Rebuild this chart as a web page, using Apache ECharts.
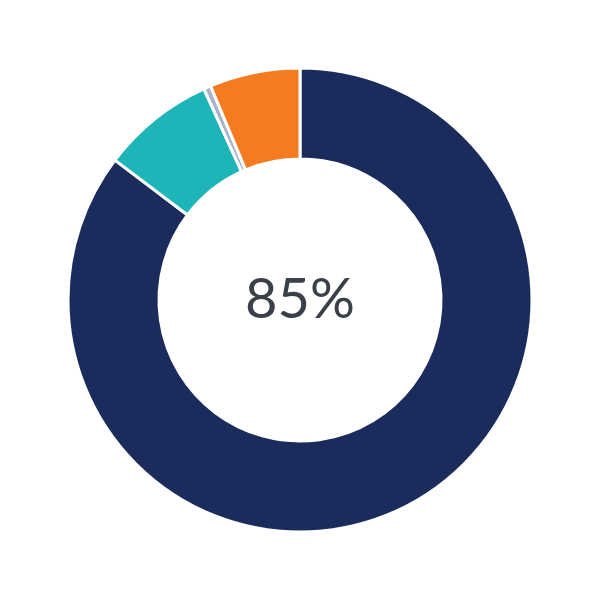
<!DOCTYPE html>
<html>
<head>
<meta charset="utf-8">
<script src="https://cdn.jsdelivr.net/npm/echarts@6/dist/echarts.min.js"></script>
<style>html,body{margin:0;padding:0;background:#fff}#c{width:600px;height:600px}</style>
</head>
<body>
<div id="c"></div>
<script>
var categories = ['A', 'B', 'C', 'D'];
var values = [85.3, 7.9, 0.5, 6.3];
var colors = ['#1b2b5b', '#1eb5b8', '#a8b3cc', '#f47b20'];
var centerLabel = '85%';

var chart = echarts.init(document.getElementById('c'));
chart.setOption({
  animation: false,
  title: {
    text: centerLabel,
    left: 'center',
    top: 'middle',
    textStyle: { fontFamily: 'Lato', fontSize: 56, fontWeight: 'normal', color: '#3b3f48' }
  },
  series: [{
    type: 'pie',
    center: [300, 300],
    radius: [141, 232],
    startAngle: 90,
    clockwise: true,
    label: { show: false },
    labelLine: { show: false },
    silent: true,
    itemStyle: { borderColor: '#ffffff', borderWidth: 3 },
    data: categories.map(function (c, i) {
      return { name: c, value: values[i], itemStyle: { color: colors[i] } };
    })
  }]
});
</script>
</body>
</html>
